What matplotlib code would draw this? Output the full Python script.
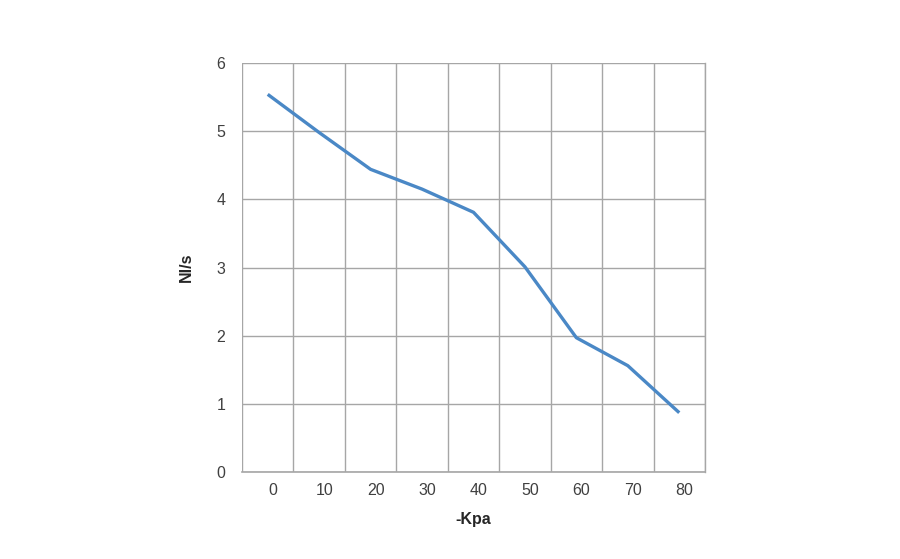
import numpy as np
import matplotlib.pyplot as plt

plt.rcParams["font.family"] = ["Liberation Sans", "DejaVu Sans"]

# dades llegides del gràfic
pressio = ["0", "10", "20", "30", "40", "50", "60", "70", "80"]
cabal = [5.54, 4.98, 4.44, 4.15, 3.81, 3.01, 1.97, 1.56, 0.87]

fig = plt.figure(figsize=(9, 5.59), dpi=100)
ax = fig.add_axes([0.2689, 0.1556, 0.5144, 0.7317])

x = np.arange(len(pressio))
ax.plot(x, cabal, color="#4a88c6", linewidth=2.4, solid_capstyle="butt", zorder=3)

ax.set_xlim(-0.5, len(pressio) - 0.5)
ax.set_ylim(0, 6)
ax.set_xticks(x + 0.1)
ax.set_xticklabels(pressio)
ax.set_xticks(np.arange(-0.5, len(pressio)), minor=True)
ax.set_yticks(np.arange(0, 7, 1))

grid_col = "#a6a6a6"
ax.grid(True, which="minor", axis="x", color=grid_col, linewidth=1.0)
ax.grid(True, which="major", axis="y", color=grid_col, linewidth=1.0)
ax.set_axisbelow(True)

for s in ["top", "left"]:
    ax.spines[s].set_visible(False)
ax.spines["right"].set_color(grid_col)
ax.spines["right"].set_linewidth(1.0)
ax.spines["bottom"].set_color(grid_col)
ax.spines["bottom"].set_linewidth(1.2)

ax.tick_params(axis="both", which="both", length=0, labelsize=11.5, colors="#404040")
ax.tick_params(axis="x", which="major", pad=8)
ax.tick_params(axis="y", pad=12)

ax.set_xlabel("-Kpa", fontsize=11.5, fontweight="bold", color="#262626")
ax.set_ylabel("Nl/s", fontsize=11.5, fontweight="bold", color="#262626")
ax.xaxis.set_label_coords(0.5, -0.098)
ax.yaxis.set_label_coords(-0.105, 0.5)

fig.savefig("out.png", dpi=100)
